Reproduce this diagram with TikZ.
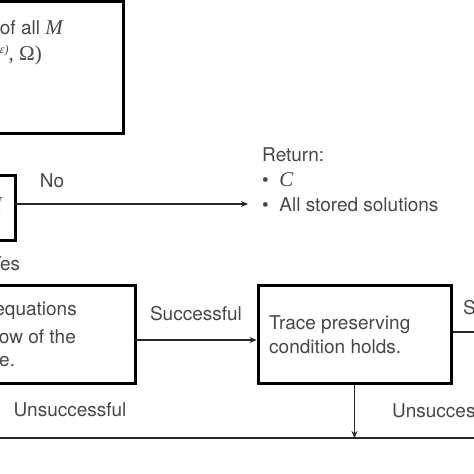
\documentclass[tikz,border=0pt]{standalone}
\usepackage{fontspec}
\setmainfont{TeX Gyre Heros}
\newfontfamily\tms{Liberation Serif}
\usetikzlibrary{arrows.meta}
\definecolor{txt}{HTML}{474747}
\newcommand{\vi}[1]{{\tms\itshape #1}}
\tikzset{
  box/.style={draw=black, line width=3pt, fill=white},
  conn/.style={draw=black!85, line width=1.1pt},
  arr/.style={conn, -{Stealth[length=7pt,width=6pt]}},
  lbl/.style={text=txt, font=\fontsize{19}{24}\selectfont, inner sep=0pt},
  blk/.style={lbl, align=left}
}
\begin{document}
\begin{tikzpicture}[x=1pt,y=-1pt]
\useasboundingbox (0,0) rectangle (474,474);
\clip (0,0) rectangle (474,474);
% boxes
\path[box] (-60,1.5) rectangle (123.5,133);
\path[box] (-60,175) rectangle (15,240);
\coordinate (dece) at (15,204);
\path[box] (-60,285) rectangle (135,383);
\coordinate (leftbe) at (135,340);
\node[box, minimum width=193pt, minimum height=98pt, inner sep=0pt] (trace) at (354.5,334) {};
% texts in boxes
\node[lbl, anchor=east] (t1) at (63,28) {of all \vi{\fontsize{21}{24}\selectfont M}};
\node[lbl, anchor=east] (t2) at (42,55) {{\tms\raisebox{7pt}{\fontsize{12}{12}\selectfont\itshape ε)}}{\tms\fontsize{21}{24}\selectfont, Ω)}};
\node[lbl, anchor=east] (dm) at (2,205) {\vi{\fontsize{21}{24}\selectfont M}};
\node[lbl, anchor=east] (e1) at (77,311) {equations};
\node[lbl, anchor=east] (e2) at (76,337) {ow of the};
\node[lbl, anchor=west] (e3) at (-1,362) {e.};
\node[blk, anchor=west] (tt) at (269,335) {Trace preserving\\condition holds.};
% return
\node[blk, anchor=north west, text depth=0pt] (ret) at (262,147) {Return:\\[1pt]\textbullet\ \ \vi{\fontsize{21}{24}\selectfont C}\\[1pt]\textbullet\ \ All stored solutions};
\coordinate (retin) at (248,204);
% connectors
\draw[arr] (dece) -- (retin);
\node[lbl] (no) at (52,181) {No};
\node[lbl, anchor=west] (yes) at (-11,264) {Yes};
\draw[arr] (leftbe) -- (leftbe -| trace.west);
\node[lbl] (succ1) at (196,314) {Successful};
\coordinate (outr) at (490,332);
\draw[conn] (trace.east |- outr) -- (outr);
\node[lbl, anchor=west] (succ2) at (463,308) {Successful};
\coordinate (bl) at (-10,438);
\coordinate (br) at (490,438);
\draw[conn] (bl) -- (br);
\draw[arr] (trace.south) -- (trace.south |- bl);
\node[lbl] (uns1) at (70,410) {Unsuccessful};
\node[lbl, anchor=west] (uns2) at (392,411) {Unsuccessful};
\end{tikzpicture}
\end{document}
